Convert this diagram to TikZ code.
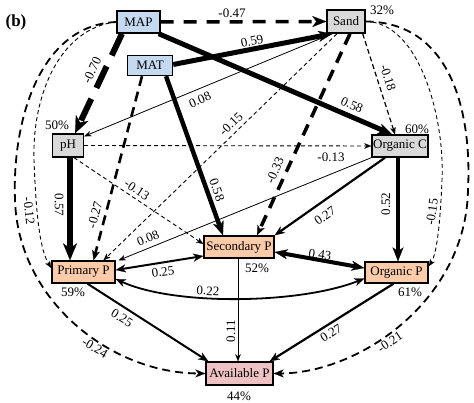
\documentclass[tikz,border=0pt]{standalone}
\usepackage{fontspec}
\setmainfont{Liberation Serif}
\usetikzlibrary{arrows.meta}
\definecolor{cblue}{HTML}{C5D9F1}
\definecolor{cgray}{HTML}{D9D9D9}
\definecolor{cpeach}{HTML}{FBCBAA}
\definecolor{cpink}{HTML}{EEC2C3}
\begin{document}
\begin{tikzpicture}[x=1pt,y=-1pt,font=\fontsize{13}{15}\selectfont,
  box/.style={draw=black,line width=1.4pt,inner sep=0pt},
  lab/.style={inner sep=0pt},
  tipXL/.style={-{Stealth[length=17pt,width=14pt,inset=5pt,line width=0.2pt]}},
  tipL/.style={-{Stealth[length=14pt,width=11pt,inset=4pt,line width=0.2pt]}},
  tipM/.style={-{Stealth[length=10pt,width=8pt,inset=3pt,line width=0.2pt]}},
  tipS/.style={-{Stealth[length=7pt,width=5.5pt,inset=2pt,line width=0.2pt]}},
  tipMM/.style={{Stealth[length=10pt,width=8pt,inset=3pt,line width=0.2pt]}-{Stealth[length=10pt,width=8pt,inset=3pt,line width=0.2pt]}},
  tipLL/.style={{Stealth[length=13pt,width=10pt,inset=4pt,line width=0.2pt]}-{Stealth[length=13pt,width=10pt,inset=4pt,line width=0.2pt]}},
  thindash/.style={line width=0.9pt,dash pattern=on 4pt off 3pt},
  outerdash/.style={line width=1.8pt,dash pattern=on 8pt off 5pt}]
\useasboundingbox (0,0) rectangle (474,403);

% nodes
\node[box,fill=cblue,minimum width=43pt,minimum height=22pt] (MAP) at (138.5,22) {MAP};
\node[box,fill=cblue,minimum width=45pt,minimum height=20pt] (MAT) at (150,65.5) {MAT};
\node[box,fill=cgray,minimum width=38pt,minimum height=23pt] (Sand) at (346,21.5) {Sand};
\node[box,fill=cgray,minimum width=31pt,minimum height=23pt] (pH) at (68,145.5) {pH};
\node[box,fill=cgray,minimum width=56pt,minimum height=22pt] (OrgC) at (400,146) {Organic C};
\node[box,fill=cpeach,minimum width=70pt,minimum height=22pt] (SecP) at (239,247) {Secondary P};
\node[box,fill=cpeach,minimum width=63pt,minimum height=22pt] (PriP) at (83.5,272) {Primary P};
\node[box,fill=cpeach,minimum width=63pt,minimum height=21pt] (OrgP) at (396.5,272.5) {Organic P};
\node[box,fill=cpink,minimum width=67pt,minimum height=23pt] (AvP) at (239.5,373.5) {Available P};

\node[lab,font=\fontsize{17}{19}\selectfont\bfseries] (tag) at (16,22) {(b)};

% percentages
\node[lab] (p1) at (382,10) {32\%};
\node[lab] (p2) at (57,125) {50\%};
\node[lab] (p3) at (417,129) {60\%};
\node[lab] (p4) at (257,268) {52\%};
\node[lab] (p5) at (73,292) {59\%};
\node[lab] (p6) at (410,292) {61\%};
\node[lab] (p7) at (239,396) {44\%};

% straight connectors
\draw[tipL,line width=3.5pt,dash pattern=on 13pt off 10pt] (MAP.east) -- (Sand.west);
\draw[tipXL,line width=6pt,dash pattern=on 24pt off 12pt] ([xshift=-16.5pt]MAP.south) -- ([xshift=7pt]pH.north);
\draw[tipL,line width=5pt] ([xshift=-2pt]MAP.south east) -- ([xshift=-8pt]OrgC.north);
\draw[tipL,line width=5pt] ([yshift=1pt]MAT.east) -- ([xshift=6pt]Sand.south west);
\draw[tipS,line width=0.8pt] ([xshift=6pt]Sand.south west) -- ([yshift=-3pt]pH.north east);
\draw[tipL,line width=4.5pt] ([xshift=16pt]MAT.south) -- ([xshift=-16pt]SecP.north);
\draw[tipM,line width=2.6pt,dash pattern=on 10pt off 6pt] ([xshift=-8pt]MAT.south) -- ([xshift=10pt]PriP.north);
\draw[tipS,thindash] ([xshift=-9pt]Sand.south) -- ([xshift=20pt]PriP.north);
\draw[tipM,line width=3.5pt,dash pattern=on 12pt off 8pt] ([xshift=4pt]Sand.south) -- ([xshift=18pt]SecP.north);
\draw[tipS,line width=1.2pt,dash pattern=on 5pt off 3pt] ([xshift=-3pt]Sand.south east) -- ([xshift=-5pt]OrgC.north);
\draw[tipS,thindash] (pH.east) -- (OrgC.west);
\draw[tipS,thindash] ([xshift=6pt]pH.south) -- ([yshift=3pt]SecP.west);
\draw[tipXL,line width=6pt] ([xshift=2pt]pH.south) -- ([xshift=-13.5pt]PriP.north);
\draw[tipS,line width=0.8pt] (OrgC.south west) -- ([xshift=3pt]PriP.north east);
\draw[tipM,line width=2.2pt] ([xshift=-15pt]OrgC.south) -- (SecP.north east);
\draw[tipL,line width=4.5pt] ([xshift=-2pt]OrgC.south) -- ([xshift=1.5pt]OrgP.north);
\draw[tipLL,line width=4pt] ([yshift=-5pt]SecP.east) -- ([yshift=4.5pt]OrgP.west);
\draw[tipMM,line width=2pt] ([yshift=2pt]PriP.east) -- ([yshift=-9pt]SecP.west);
\draw[tipMM,line width=1.8pt] ([yshift=-7pt]PriP.east) .. controls (175,306) and (300,304) .. ([yshift=-6pt]OrgP.west);
\draw[tipS,line width=0.9pt] ([xshift=-1pt]SecP.south) -- ([xshift=-1.5pt]AvP.north);
\draw[tipM,line width=2pt] ([xshift=4pt]PriP.south) -- ([xshift=3pt]AvP.north west);
\draw[tipM,line width=2.2pt] ([xshift=-3pt]OrgP.south) -- ([xshift=-4pt]AvP.north east);

% curved dashed connectors
\draw[tipM,outerdash] (MAP.west) .. controls (40,25) and (12,120) .. (15,200) .. controls (18,300) and (110,373) .. (AvP.west);
\draw[tipS,thindash] (MAP.west) .. controls (60,28) and (32,95) .. (34,160) .. controls (36,215) and (40,250) .. ([yshift=4pt]PriP.west);
\draw[tipS,thindash] (Sand.east) .. controls (420,22) and (445,120) .. (442,180) .. controls (440,230) and (436,255) .. ([yshift=-5pt]OrgP.north east);
\draw[tipM,outerdash] (Sand.east) .. controls (450,22) and (472,110) .. (468,190) .. controls (466,300) and (360,373) .. (AvP.east);

% coefficient labels
\node[lab] (c1) at (232,13) {-0.47};
\node[lab,rotate=64] (c2) at (92,70) {-0.70};
\node[lab,rotate=-24] (c3) at (352,105) {0.58};
\node[lab,rotate=12] (c4) at (252,41) {0.59};
\node[lab,rotate=23.5] (c5) at (200,100) {0.08};
\node[lab,rotate=22] (c6) at (148,238) {0.08};
\node[lab,rotate=-70] (c7) at (217,190) {0.58};
\node[lab,rotate=75] (c8) at (95,215) {-0.27};
\node[lab,rotate=44] (c9) at (231,124) {-0.15};
\node[lab,rotate=66] (c10) at (275,170) {-0.33};
\node[lab,rotate=-72] (c11) at (388,78) {-0.18};
\node[lab] (c12) at (331,157) {-0.13};
\node[lab,rotate=-34] (c13) at (137,190) {-0.13};
\node[lab,rotate=-90] (c14) at (59,205) {0.57};
\node[lab,rotate=35] (c15) at (325,216) {0.27};
\node[lab,rotate=90] (c16) at (386,204) {0.52};
\node[lab,rotate=-8] (c17) at (320,255) {0.43};
\node[lab,rotate=8] (c18) at (163,272) {0.25};
\node[lab,rotate=-3] (c19) at (208,291) {0.22};
\node[lab,rotate=90] (c20) at (231,331) {0.11};
\node[lab,rotate=-32] (c21) at (122,318) {0.25};
\node[lab,rotate=32] (c22) at (331,333) {0.27};
\node[lab,rotate=82] (c23) at (432,212) {-0.15};
\node[lab,rotate=34] (c24) at (390,342) {-0.21};
\node[lab,rotate=-84] (c25) at (29,211) {-0.12};
\node[lab,rotate=-31] (c26) at (95,348) {-0.24};
\end{tikzpicture}
\end{document}
